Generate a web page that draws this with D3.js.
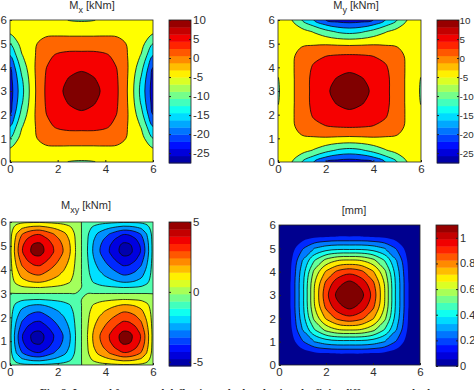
<!DOCTYPE html>
<html>
<head>
<meta charset="utf-8">
<script src="https://cdn.jsdelivr.net/npm/d3@7"></script>
<style>
html,body{margin:0;padding:0;background:#fff;overflow:hidden}
svg{display:block}
text{font-family:"Liberation Sans",Arial,sans-serif;fill:#2e2e2e}
</style>
</head>
<body>
<svg id="c" width="474" height="390"></svg>
<script>
// Values: one quadrant, rows from y=0 up to y=3.
const momentQuadrant = [
  [ -6.0, -6.5, -7.0, -8.0, -9.0,-10.2,-10.5],
  [ -9.0, -6.5, -6.0, -6.2, -6.3, -6.5, -6.5],
  [-15.0, -8.0, -5.6, -3.4, -2.6, -2.4, -2.4],
  [-20.0,-10.3, -5.6, -1.2,  0.6,  1.3,  1.3],
  [-25.0,-13.0, -5.5, -0.2,  2.7,  3.8,  4.0],
  [-27.0,-15.5, -5.8,  0.3,  3.6,  5.3,  6.9],
  [-27.6,-16.5, -6.0,  0.5,  3.6,  6.8,  8.5]
];
const twistQuadrant = [
  [0.00,0.20,0.30,0.35,0.37,0.38,0.34,0.30,0.25,0.20,0.13,0.04,0],
  [0.08,0.82,1.41,1.73,1.94,1.98,1.78,1.53,1.27,1.00,0.67,0.20,0],
  [0.14,1.41,2.43,2.99,3.34,3.41,3.06,2.64,2.18,1.73,1.16,0.35,0],
  [0.17,1.73,2.99,3.68,4.15,4.20,3.77,3.25,2.69,2.12,1.43,0.43,0],
  [0.19,1.94,3.34,4.15,4.70,4.80,4.25,3.63,3.00,2.37,1.60,0.48,0],
  [0.20,1.98,3.41,4.20,4.80,4.90,4.30,3.71,3.07,2.43,1.63,0.50,0],
  [0.18,1.78,3.06,3.77,4.25,4.30,3.86,3.33,2.75,2.17,1.46,0.44,0],
  [0.15,1.53,2.64,3.25,3.63,3.71,3.33,2.87,2.37,1.87,1.26,0.38,0],
  [0.13,1.27,2.18,2.69,3.00,3.07,2.75,2.37,1.96,1.55,1.04,0.32,0],
  [0.10,1.00,1.73,2.12,2.37,2.43,2.17,1.87,1.55,1.22,0.82,0.25,0],
  [0.07,0.67,1.16,1.43,1.60,1.63,1.46,1.26,1.04,0.82,0.56,0.17,0],
  [0.02,0.20,0.35,0.43,0.48,0.50,0.44,0.38,0.32,0.25,0.17,0.05,0],
  [0,0,0,0,0,0,0,0,0,0,0,0,0]
];
const deflectionQuadrant = [
  [0,0,0,0,0,0,0],
  [0,0.010,0.040,0.070,0.085,0.092,0.092],
  [0,0.040,0.170,0.270,0.320,0.340,0.340],
  [0,0.070,0.270,0.450,0.570,0.630,0.640],
  [0,0.085,0.320,0.570,0.740,0.840,0.880],
  [0,0.092,0.340,0.630,0.840,0.970,1.030],
  [0,0.092,0.340,0.640,0.880,1.030,1.090]
];
const momentLevels = [-25,-20,-15,-10,-5,0,5];
const twistLevels = [-4.5,-3.5,-2.5,-1.5,-0.5,0.001,0.5,1.5,2.5,3.5,4.5];
const deflectionLevels = [0.09,0.18,0.27,0.37,0.46,0.55,0.64,0.73,0.82,0.91,1.0];
const momentBandT = [0.07,0.20,0.335,0.45,0.61,0.76,0.87,1];
const twistBandT = [0.03,0.08,0.15,0.25,0.33,0.44,0.52,0.62,0.71,0.79,0.88,1];
const deflectionBandT = [0,0.15,0.23,0.31,0.38,0.46,0.54,0.63,0.71,0.80,0.90,1];
const xAxisTicks = [0,2,4,6];
const yAxisTicks = [0,1,2,3,4,5,6];
const deflectionYTicks = [0,1,2,3,4,5,6];
const momentBarTicks = [10,5,0,-5,-10,-15,-20,-25];
const twistBarTicks = [5,0,-5];
const deflectionBarTicks = [1,0.8,0.6,0.4,0.2,0];
const caption = "Fig. 3. Internal forces and deflection calculated using the finite difference method";

const jet = d3.scaleLinear()
  .domain([0,0.11,0.36,0.61,0.86,1])
  .range(["#00008f","#0000ff","#00ffff","#ffff00","#ff0000","#800000"]);

const svg = d3.select("#c");
const sansFont = '"Liberation Sans",Arial,sans-serif';
const plainFmt = d=>String(d);

function fullGrid(q, sign){
  // mirror the quadrant to the whole plate, then repeat the edge once so contours run past the frame
  const m = q.length, last = 2*m-2, n = last+3, vals = new Array(n*n);
  for(let r=0;r<n;r++)for(let c=0;c<n;c++){
    const rr = Math.min(last,Math.max(0,r-1)), cc = Math.min(last,Math.max(0,c-1));
    const a = rr<m?rr:last-rr, b = cc<m?cc:last-cc;
    vals[r*n+c] = q[a][b]*sign(rr-last/2,cc-last/2);
  }
  return {n,vals,step:6/last};
}

function styleAxis(a,size){
  a.select(".domain").remove();
  a.selectAll("line").attr("stroke","#222");
  a.selectAll("text").style("font-size",size+"px").style("font-family",sansFont).attr("fill","#2e2e2e");
}

function panel(idx,o){
  const g = svg.append("g");
  const {n,vals,step} = fullGrid(o.q,o.sign);
  const x = d3.scaleLinear().domain([0,6]).range([o.l,o.r]);
  const y = d3.scaleLinear().domain([0,6]).range([o.b,o.t]);
  const clipId = "clip"+idx;
  svg.append("clipPath").attr("id",clipId).append("rect")
    .attr("x",o.l).attr("y",o.t).attr("width",o.r-o.l).attr("height",o.b-o.t);
  const plot = g.append("g").attr("clip-path",`url(#${clipId})`);
  plot.append("rect").attr("x",o.l).attr("y",o.t).attr("width",o.r-o.l).attr("height",o.b-o.t)
    .attr("fill",jet(o.bandT[0]));
  const contours = d3.contours().size([n,n]).thresholds(o.levels)(vals);
  const line = d3.line().curve(d3.curveCatmullRomClosed.alpha(0.5));
  contours.forEach((ct,i)=>{
    let path = "";
    ct.coordinates.forEach(poly=>poly.forEach(ring=>{
      const pts = ring.slice(0,-1).map(p=>[x((p[0]-1.5)*step),y((p[1]-1.5)*step)]);
      path += line(pts);
    }));
    plot.append("path").attr("d",path).attr("fill",jet(o.bandT[i+1])).attr("fill-rule","evenodd")
      .attr("stroke",(o.noLine===i)?"none":"#0a0a0a").attr("stroke-width",0.8);
  });
  g.append("rect").attr("x",o.l).attr("y",o.t).attr("width",o.r-o.l).attr("height",o.b-o.t)
    .attr("fill","none").attr("stroke","#222").attr("stroke-width",0.8);
  const ax = g.append("g").attr("transform",`translate(0,${o.b})`)
    .call(d3.axisBottom(x).tickValues(xAxisTicks).tickFormat(plainFmt).tickSize(-2).tickPadding(3).tickSizeOuter(0));
  const ay = g.append("g").attr("transform",`translate(${o.l},0)`)
    .call(d3.axisLeft(y).tickValues(yAxisTicks).tickFormat(plainFmt).tickSize(-2).tickPadding(3).tickSizeOuter(0));
  styleAxis(ax,11.5); styleAxis(ay,11.5);
  // colour bar
  const by = d3.scaleLinear().domain(o.barDomain).range([o.bb,o.bt]);
  const steps = d3.range(20);
  const sy = d3.scaleBand().domain(steps).range([o.bb,o.bt]);
  g.selectAll(null).data(steps).join("rect")
    .attr("x",o.bl).attr("width",o.br-o.bl)
    .attr("y",d=>sy(d)).attr("height",sy.bandwidth()+0.4)
    .attr("fill",d=>jet((d+0.5)/20));
  g.append("rect").attr("x",o.bl).attr("y",o.bt).attr("width",o.br-o.bl).attr("height",o.bb-o.bt)
    .attr("fill","none").attr("stroke","#222").attr("stroke-width",0.8);
  const ab = g.append("g").attr("transform",`translate(${o.br},0)`)
    .call(d3.axisRight(by).tickValues(o.barTicks).tickFormat(plainFmt).tickSize(-2).tickPadding(o.barPad).tickSizeOuter(0));
  ab.selectAll("g.tick").append("line").attr("x1",-(o.br-o.bl)).attr("x2",-(o.br-o.bl)+2);
  styleAxis(ab,o.barSize);
  // title
  const t = g.append("text").attr("x",o.tx).attr("y",o.ty).attr("text-anchor","middle").style("font-size","11px");
  t.append("tspan").text(o.title[0]);
  if(o.title[1]){
    t.append("tspan").attr("dy",3.5).style("font-size","9px").text(o.title[1]);
    t.append("tspan").attr("dy",-3.5).text(o.title[2]);
  }
}

const one = ()=>1;
const twistSign = (r,c)=>((r<0)===(c<0))?-1:1;
const transpose = m=>m[0].map((_,c)=>m.map(row=>row[c]));

panel(1,{q:momentQuadrant,sign:one,levels:momentLevels,bandT:momentBandT,
  l:10,r:153,t:20,b:162,bl:169,br:191,bt:20,bb:163,barDomain:[-27.6,10],barTicks:momentBarTicks,barPad:2,barSize:11.5,
  title:["M","x"," [kNm]"],tx:92,ty:9});
panel(2,{q:transpose(momentQuadrant),sign:one,levels:momentLevels,bandT:momentBandT,
  l:278,r:421,t:20,b:162,bl:437,br:459,bt:20,bb:163,barDomain:[-27.6,10],barTicks:momentBarTicks,barPad:0.5,barSize:9.8,
  title:["M","y"," [kNm]"],tx:356,ty:9});
panel(3,{q:twistQuadrant,sign:twistSign,levels:twistLevels,bandT:twistBandT,
  l:10,r:153,t:222,b:365,bl:169,br:191,bt:222,bb:366,barDomain:[-5.3,5],barTicks:twistBarTicks,barPad:2,barSize:11.5,
  title:["M","xy"," [kNm]"],tx:86,ty:209});
panel(4,{q:deflectionQuadrant,sign:one,levels:deflectionLevels,bandT:deflectionBandT,noLine:0,
  l:279,r:420,t:225,b:365,bl:436,br:458,bt:225,bb:366,barDomain:[0,1.1],barTicks:deflectionBarTicks,barPad:2,barSize:11,
  title:["[mm]"],tx:354,ty:214});

svg.append("text").attr("x",40).attr("y",396).attr("textLength",390).attr("lengthAdjust","spacing")
  .style("font-family",'"Liberation Serif",serif')
  .style("font-size","11px").style("font-weight","bold").attr("fill","#111").text(caption);
</script>
</body>
</html>
